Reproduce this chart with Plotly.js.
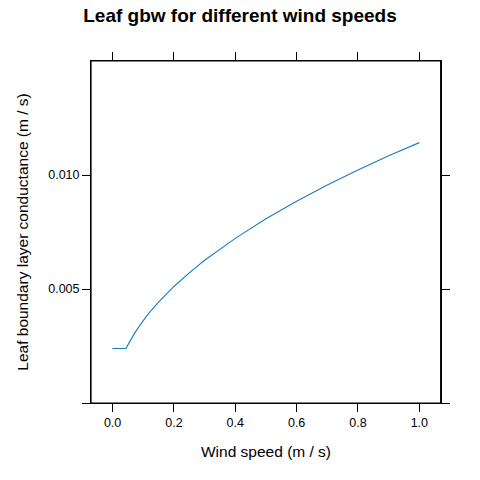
<!DOCTYPE html>
<html>
<head>
<meta charset="utf-8">
<script src="https://cdn.plot.ly/plotly-3.0.1.min.js"></script>
<style>body{margin:0;background:#fff;overflow:hidden}#plot{width:480px;height:480px}</style>
</head>
<body>
<div id="plot"></div>
<script>
// wind speed (m/s) and leaf gbw (m/s)
var windSpeed = [0, 0.044, 0.05, 0.06, 0.07, 0.08, 0.09, 0.10, 0.12, 0.15, 0.20, 0.25, 0.30, 0.35, 0.40, 0.50, 0.60, 0.70, 0.80, 0.90, 1.00];
var gbw = [0.00239, 0.00239, 0.00255, 0.00280, 0.00302, 0.00323, 0.00343, 0.00361, 0.00396, 0.00442, 0.00511, 0.00571, 0.00626, 0.00676, 0.00722, 0.00808, 0.00885, 0.00956, 0.01022, 0.01084, 0.01142];
var xTicks = [0, 0.2, 0.4, 0.6, 0.8, 1.0];
var xTickText = ['0.0', '0.2', '0.4', '0.6', '0.8', '1.0'];
var yTicks = [0, 0.005, 0.010];
var yTickText = ['', '0.005', '0.010'];

var trace = {
  type: 'scatter',
  mode: 'lines',
  x: windSpeed,
  y: gbw,
  line: { color: '#1a7cc6', width: 1.1 },
  hoverinfo: 'skip'
};

var axisBase = {
  showline: true,
  linecolor: '#000',
  linewidth: 1,
  mirror: 'ticks',
  ticks: 'outside',
  ticklen: 8,
  tickwidth: 1,
  tickcolor: '#000',
  showgrid: false,
  zeroline: false,
  tickfont: { size: 12.5, color: '#000' }
};

var layout = {
  width: 480,
  height: 480,
  paper_bgcolor: '#fff',
  plot_bgcolor: '#fff',
  font: { family: 'Liberation Sans, Arial, sans-serif', color: '#000' },
  title: {
    text: '<b>Leaf gbw for different wind speeds</b>',
    font: { size: 19, color: '#000' },
    x: 0.5, xanchor: 'center',
    y: 0.968, yanchor: 'middle'
  },
  margin: { l: 91, r: 39, t: 61, b: 77, pad: 0 },
  showlegend: false,
  xaxis: Object.assign({}, axisBase, {
    range: [-0.0703, 1.0706],
    tickvals: xTicks,
    ticktext: xTickText,
    title: { text: 'Wind speed (m / s)', font: { size: 15.5 }, standoff: 17 }
  }),
  yaxis: Object.assign({}, axisBase, {
    range: [0, 0.015],
    tickvals: yTicks,
    ticktext: yTickText,
    title: { text: 'Leaf boundary layer conductance (m / s)', font: { size: 15.5 }, standoff: 15 }
  }),
  shapes: [{
    type: 'rect', xref: 'paper', yref: 'paper',
    x0: 0, x1: 0.999, y0: 0, y1: 1,
    line: { color: '#000', width: 1.2 }, layer: 'above'
  }]
};

Plotly.newPlot('plot', [trace], layout, { displayModeBar: false, staticPlot: true });
</script>
</body>
</html>
